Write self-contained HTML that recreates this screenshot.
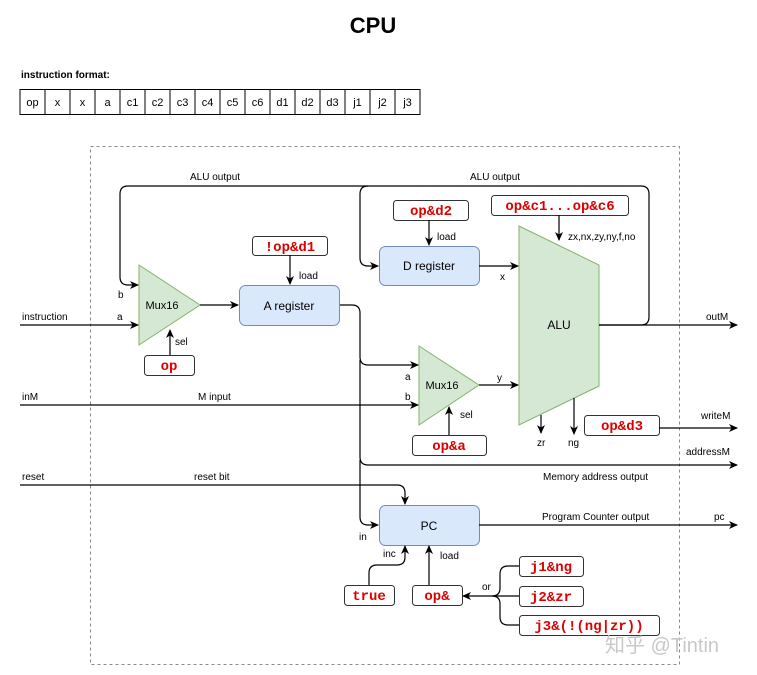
<!DOCTYPE html>
<html><head><meta charset="utf-8"><style>
body{margin:0;background:#fff}
svg{display:block}
text{font-family:"Liberation Sans",Arial,sans-serif;font-size:10px;fill:#000}
.m{font-family:"Liberation Mono","Courier New",monospace;font-weight:bold;font-size:14px;fill:#d00}
</style></head><body>
<svg width="757" height="675" viewBox="0 0 757 675" xmlns="http://www.w3.org/2000/svg">
<defs><marker id="ar" markerWidth="10" markerHeight="10" refX="8" refY="5" orient="auto" markerUnits="userSpaceOnUse"><path d="M0,1 L9,5 L0,9 L2.5,5 z" fill="#000"/></marker></defs>
<text x="373" y="33" text-anchor="middle" style="font-size:22px;font-weight:bold">CPU</text>
<text x="21" y="78" style="font-weight:bold;font-size:10px">instruction format:</text>
<g stroke="#000" fill="none" stroke-width="1">
<rect x="20" y="89.5" width="400" height="25"/>
<path d="M45 89.5v25M70 89.5v25M95 89.5v25M120 89.5v25M145 89.5v25M170 89.5v25M195 89.5v25M220 89.5v25M245 89.5v25M270 89.5v25M295 89.5v25M320 89.5v25M345 89.5v25M370 89.5v25M395 89.5v25"/>
</g>
<g text-anchor="middle" style="font-size:11px">
<text x="32.5" y="106" style="font-size:11px">op</text><text x="57.5" y="106" style="font-size:11px">x</text><text x="82.5" y="106" style="font-size:11px">x</text><text x="107.5" y="106" style="font-size:11px">a</text><text x="132.5" y="106" style="font-size:11px">c1</text><text x="157.5" y="106" style="font-size:11px">c2</text><text x="182.5" y="106" style="font-size:11px">c3</text><text x="207.5" y="106" style="font-size:11px">c4</text><text x="232.5" y="106" style="font-size:11px">c5</text><text x="257.5" y="106" style="font-size:11px">c6</text><text x="282.5" y="106" style="font-size:11px">d1</text><text x="307.5" y="106" style="font-size:11px">d2</text><text x="332.5" y="106" style="font-size:11px">d3</text><text x="357.5" y="106" style="font-size:11px">j1</text><text x="382.5" y="106" style="font-size:11px">j2</text><text x="407.5" y="106" style="font-size:11px">j3</text>
</g>
<rect x="90.5" y="146.5" width="589" height="518" fill="none" stroke="#888" stroke-dasharray="3,3"/>

<!-- shapes -->
<path d="M139 265 L200 305 L139 345 Z" fill="#d5e8d4" stroke="#82b366"/>
<path d="M419 346 L479 385 L419 425 Z" fill="#d5e8d4" stroke="#82b366"/>
<path d="M519 226 L599 265 L599 386 L519 425 Z" fill="#d5e8d4" stroke="#82b366"/>
<rect x="239.5" y="285.5" width="100" height="40" rx="6" fill="#dae8fc" stroke="#6c8ebf"/>
<rect x="379.5" y="246.5" width="100" height="39" rx="6" fill="#dae8fc" stroke="#6c8ebf"/>
<rect x="379.5" y="505.5" width="100" height="40" rx="6" fill="#dae8fc" stroke="#6c8ebf"/>
<g font-size="11" text-anchor="middle">
<text x="162" y="309" style="font-size:11px">Mux16</text>
<text x="442" y="389" style="font-size:11px">Mux16</text>
<text x="559" y="329" style="font-size:12px">ALU</text>
<text x="289" y="310" style="font-size:12px">A register</text>
<text x="429" y="270" style="font-size:12px">D register</text>
<text x="429" y="530" style="font-size:12px">PC</text>
</g>

<!-- code boxes -->
<g fill="#fff" stroke="#333">
<rect x="252.5" y="236.5" width="75" height="19" rx="3"/>
<rect x="144.5" y="355.5" width="50" height="20" rx="3"/>
<rect x="393.5" y="200.5" width="75" height="20" rx="3"/>
<rect x="491.5" y="195.5" width="137" height="20" rx="3"/>
<rect x="412.5" y="435.5" width="74" height="20" rx="3"/>
<rect x="584.5" y="415.5" width="75" height="20" rx="3"/>
<rect x="344.5" y="585.5" width="50" height="20" rx="3"/>
<rect x="412.5" y="585.5" width="50" height="20" rx="3"/>
<rect x="519.5" y="556.5" width="64" height="20" rx="3"/>
<rect x="519.5" y="586.5" width="64" height="20" rx="3"/>
<rect x="519.5" y="615.5" width="140" height="20" rx="3"/>
</g>
<g text-anchor="middle">
<text class="m" x="290" y="251">!op&amp;d1</text>
<text class="m" x="169" y="370">op</text>
<text class="m" x="431" y="215">op&amp;d2</text>
<text class="m" x="560" y="210">op&amp;c1...op&amp;c6</text>
<text class="m" x="449" y="450">op&amp;a</text>
<text class="m" x="622" y="430">op&amp;d3</text>
<text class="m" x="369" y="600">true</text>
<text class="m" x="437" y="600">op&amp;</text>
<text class="m" x="551" y="571">j1&amp;ng</text>
<text class="m" x="551" y="601">j2&amp;zr</text>
<text class="m" x="589" y="630">j3&amp;(!(ng|zr))</text>
</g>

<!-- connectors -->
<g stroke="#000" fill="none" stroke-width="1.2">
<path d="M20 325 H138" marker-end="url(#ar)"/>
<path d="M599 325 H737" marker-end="url(#ar)"/>
<path d="M599 325 H641 Q649 325 649 317 V194 Q649 186 641 186 H128 Q120 186 120 194 V277 Q120 285 128 285 H138" marker-end="url(#ar)"/>
<path d="M368 186 Q360 186 360 194 V258 Q360 266 368 266 H378" marker-end="url(#ar)"/>
<path d="M200 305 H238" marker-end="url(#ar)"/>
<path d="M290 255 V284" marker-end="url(#ar)"/>
<path d="M170 355 V330" marker-end="url(#ar)"/>
<path d="M429 220 V245" marker-end="url(#ar)"/>
<path d="M559 215 V240" marker-end="url(#ar)"/>
<path d="M479 266 H518" marker-end="url(#ar)"/>
<path d="M340 305 H352 Q360 305 360 313 V357 Q360 365 368 365 H418" marker-end="url(#ar)"/>
<path d="M20 405 H418" marker-end="url(#ar)"/>
<path d="M479 385 H518" marker-end="url(#ar)"/>
<path d="M449 435 V407" marker-end="url(#ar)"/>
<path d="M541 415 V433" marker-end="url(#ar)"/>
<path d="M574 398 V434" marker-end="url(#ar)"/>
<path d="M659 428 H737" marker-end="url(#ar)"/>
<path d="M360 360 V457 Q360 465 368 465 H737" marker-end="url(#ar)"/>
<path d="M360 460 V517 Q360 525 368 525 H378" marker-end="url(#ar)"/>
<path d="M20 485 H397 Q405 485 405 493 V504" marker-end="url(#ar)"/>
<path d="M479 525 H737" marker-end="url(#ar)"/>
<path d="M369 585 V573 Q369 565 377 565 H397 Q405 565 405 557 V546" marker-end="url(#ar)"/>
<path d="M429 585 V546" marker-end="url(#ar)"/>
<path d="M519 566 H508 Q500 566 500 574 V588 Q500 596 492 596 Q500 596 500 604 V617 Q500 625 508 625 H519"/>
<path d="M519 596 H463" marker-end="url(#ar)"/>
</g>

<!-- labels -->
<text x="190" y="180">ALU output</text>
<text x="470" y="180">ALU output</text>
<text x="22" y="320">instruction</text>
<text x="117" y="320">a</text>
<text x="118" y="298">b</text>
<text x="175" y="345">sel</text>
<text x="299" y="279">load</text>
<text x="437" y="240">load</text>
<text x="568" y="240">zx,nx,zy,ny,f,no</text>
<text x="500" y="280">x</text>
<text x="706" y="320">outM</text>
<text x="405" y="380">a</text>
<text x="405" y="400">b</text>
<text x="497" y="381">y</text>
<text x="460" y="418">sel</text>
<text x="22" y="400">inM</text>
<text x="198" y="400">M input</text>
<text x="537" y="446">zr</text>
<text x="568" y="446">ng</text>
<text x="701" y="419">writeM</text>
<text x="686" y="455">addressM</text>
<text x="543" y="480">Memory address output</text>
<text x="22" y="480">reset</text>
<text x="194" y="480">reset bit</text>
<text x="359" y="540">in</text>
<text x="542" y="520">Program Counter output</text>
<text x="714" y="520">pc</text>
<text x="383" y="557">inc</text>
<text x="440" y="559">load</text>
<text x="482" y="590">or</text>
<text x="605" y="652" style="font-family:'Liberation Sans','Noto Sans CJK SC',sans-serif;font-size:20px;fill:#c8c8c8">知乎 @Tintin</text>
</svg>
</body></html>
